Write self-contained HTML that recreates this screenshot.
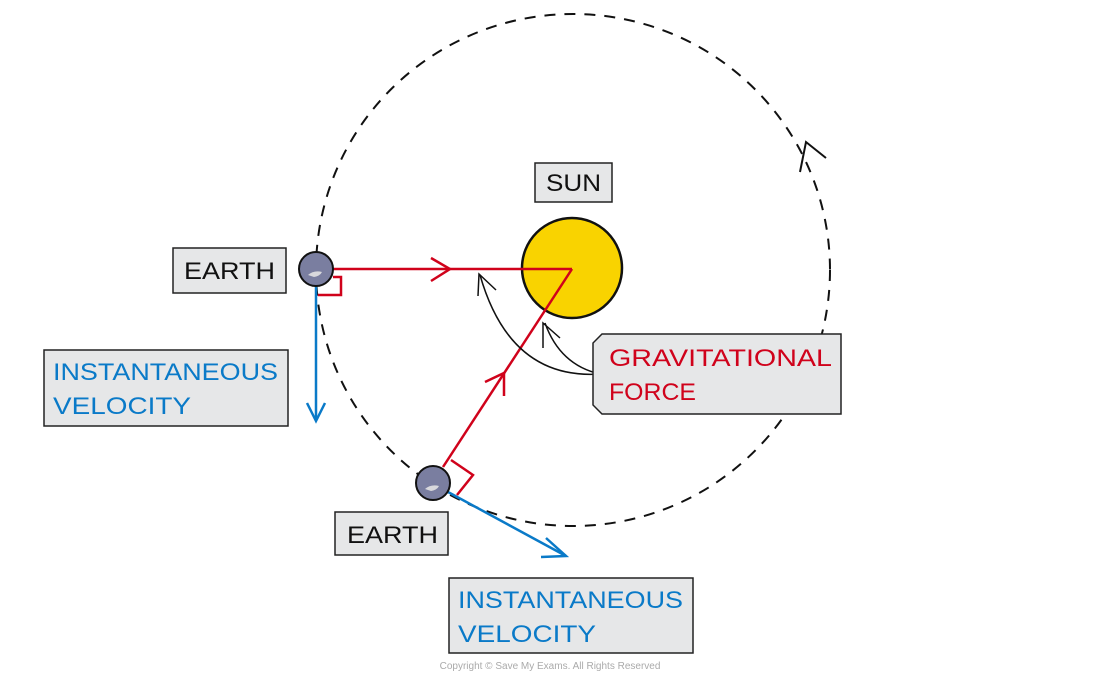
<!DOCTYPE html>
<html><head><meta charset="utf-8"><style>
html,body{margin:0;padding:0;background:#fff;width:1100px;height:677px;overflow:hidden}
svg{display:block}
text{font-family:"Liberation Sans",sans-serif}
</style></head><body>
<svg width="1100" height="677" viewBox="0 0 1100 677" xmlns="http://www.w3.org/2000/svg">
<ellipse cx="573" cy="270" rx="257" ry="256" fill="none" stroke="#111" stroke-width="2" stroke-dasharray="11,9"/>
<polyline points="800,172 806,142 826,158" fill="none" stroke="#111" stroke-width="2"/>
<circle cx="572" cy="268" r="50" fill="#f9d300" stroke="#111" stroke-width="2.5"/>
<g stroke="#d0021b" stroke-width="2.5" fill="none">
<line x1="333" y1="269" x2="572" y2="269"/>
<polyline points="431,258 450,269 431,281"/>
<polyline points="333,277 341,277 341,295 318,295"/>
<line x1="443" y1="467" x2="572" y2="269"/>
<polyline points="485,382 504,373 504,396"/>
<polyline points="451,460 473,475 457,495"/>
</g>
<g stroke="#0a7ac8" stroke-width="2.5" fill="none">
<line x1="316" y1="286" x2="316" y2="420"/>
<polyline points="307,403 316,421 325,403"/>
<line x1="448" y1="492" x2="566" y2="556"/>
<polyline points="546,538 566,556 541,557"/>
</g>
<g stroke="#111" stroke-width="2">
<circle cx="316" cy="269" r="17" fill="#7a7ea0"/>
<circle cx="433" cy="483" r="17" fill="#7a7ea0"/>
</g>
<g fill="#d8d8dc"><path d="M308 275 q6-5 14-3 q-2 4-8 5z"/><path d="M425 489 q6-5 14-3 q-2 4-8 5z"/></g>
<g stroke="#111" stroke-width="1.5" fill="none">
<path d="M600 374 Q510 380 480 275"/>
<polyline points="478,296 479,274 496,290"/>
<path d="M600 374 Q560 365 545 323"/>
<polyline points="543,348 543,323 560,338"/>
<circle cx="601" cy="374" r="3" fill="#fff"/>
</g>
<g fill="#e6e7e8" stroke="#222" stroke-width="1.5">
<rect x="173" y="248" width="113" height="45"/>
<rect x="44" y="350" width="244" height="76"/>
<rect x="535" y="163" width="77" height="39"/>
<path d="M602 334 L841 334 L841 414 L602 414 L593 405 L593 343 Z"/>
<rect x="335" y="512" width="113" height="43"/>
<rect x="449" y="578" width="244" height="75"/>
</g>
<g font-size="24" fill="#111">
<text x="184" y="279" textLength="91" lengthAdjust="spacingAndGlyphs">EARTH</text>
<text x="546" y="191" textLength="55" lengthAdjust="spacingAndGlyphs">SUN</text>
<text x="347" y="543" textLength="91" lengthAdjust="spacingAndGlyphs">EARTH</text>
</g>
<g font-size="24" fill="#0a7ac8">
<text x="53" y="380" textLength="225" lengthAdjust="spacingAndGlyphs">INSTANTANEOUS</text>
<text x="53" y="414" textLength="138" lengthAdjust="spacingAndGlyphs">VELOCITY</text>
<text x="458" y="608" textLength="225" lengthAdjust="spacingAndGlyphs">INSTANTANEOUS</text>
<text x="458" y="642" textLength="138" lengthAdjust="spacingAndGlyphs">VELOCITY</text>
</g>
<g font-size="24" fill="#d0021b">
<text x="609" y="366" textLength="223" lengthAdjust="spacingAndGlyphs">GRAVITATIONAL</text>
<text x="609" y="400" textLength="87" lengthAdjust="spacingAndGlyphs">FORCE</text>
</g>
<text x="550" y="669" font-size="10" fill="#aaa" text-anchor="middle">Copyright © Save My Exams. All Rights Reserved</text>
</svg>
</body></html>
